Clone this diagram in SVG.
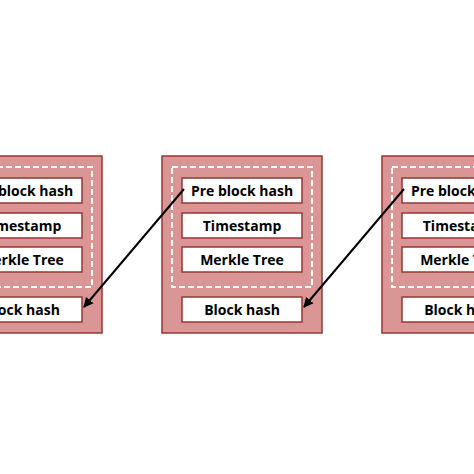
<svg xmlns="http://www.w3.org/2000/svg" width="474" height="474" viewBox="0 0 474 474">
<style>
.outer{fill:#d99694;stroke:#953735;stroke-width:1.5}
.dash{fill:none;stroke:#ffffff;stroke-width:2;stroke-dasharray:6 3}
.box{fill:#ffffff;stroke:#953735;stroke-width:1.5}
.t{font-family:"Open Sans","Liberation Sans",sans-serif;font-weight:bold;font-size:14px;fill:#000;text-anchor:middle;dominant-baseline:central}
.conn{stroke:#000;stroke-width:2;fill:none}
</style>
<defs>
<marker id="ah" viewBox="0 0 10 10" refX="9" refY="5" markerWidth="5" markerHeight="5" orient="auto" markerUnits="strokeWidth">
<path d="M0,0 L10,5 L0,10 z" fill="#000"/>
</marker>
</defs>
<rect width="474" height="474" fill="#ffffff"/>
<g id="block1" transform="translate(-220,0)">
<rect class="outer" x="162" y="156" width="160" height="177"/>
<rect class="dash" x="172" y="167" width="140" height="120"/>
<rect class="box" x="182" y="178" width="120" height="25"/>
<text class="t" x="242" y="190.5">Pre block hash</text>
<rect class="box" x="182" y="213" width="120" height="25"/>
<text class="t" x="242" y="225.5">Timestamp</text>
<rect class="box" x="182" y="247" width="120" height="25"/>
<text class="t" x="242" y="259.5">Merkle Tree</text>
<rect class="box" x="182" y="297" width="120" height="25"/>
<text class="t" x="242" y="309.5">Block hash</text>
</g>
<g id="block2">
<rect class="outer" x="162" y="156" width="160" height="177"/>
<rect class="dash" x="172" y="167" width="140" height="120"/>
<rect class="box" x="182" y="178" width="120" height="25"/>
<text class="t" x="242" y="190.5">Pre block hash</text>
<rect class="box" x="182" y="213" width="120" height="25"/>
<text class="t" x="242" y="225.5">Timestamp</text>
<rect class="box" x="182" y="247" width="120" height="25"/>
<text class="t" x="242" y="259.5">Merkle Tree</text>
<rect class="box" x="182" y="297" width="120" height="25"/>
<text class="t" x="242" y="309.5">Block hash</text>
</g>
<g id="block3" transform="translate(220,0)">
<rect class="outer" x="162" y="156" width="160" height="177"/>
<rect class="dash" x="172" y="167" width="140" height="120"/>
<rect class="box" x="182" y="178" width="120" height="25"/>
<text class="t" x="242" y="190.5">Pre block hash</text>
<rect class="box" x="182" y="213" width="120" height="25"/>
<text class="t" x="242" y="225.5">Timestamp</text>
<rect class="box" x="182" y="247" width="120" height="25"/>
<text class="t" x="242" y="259.5">Merkle Tree</text>
<rect class="box" x="182" y="297" width="120" height="25"/>
<text class="t" x="242" y="309.5">Block hash</text>
</g>
<g id="connectors">
<line class="conn" x1="184" y1="189" x2="84" y2="307" marker-end="url(#ah)"/>
<line class="conn" x1="404" y1="189" x2="304" y2="307" marker-end="url(#ah)"/>
</g>
</svg>
